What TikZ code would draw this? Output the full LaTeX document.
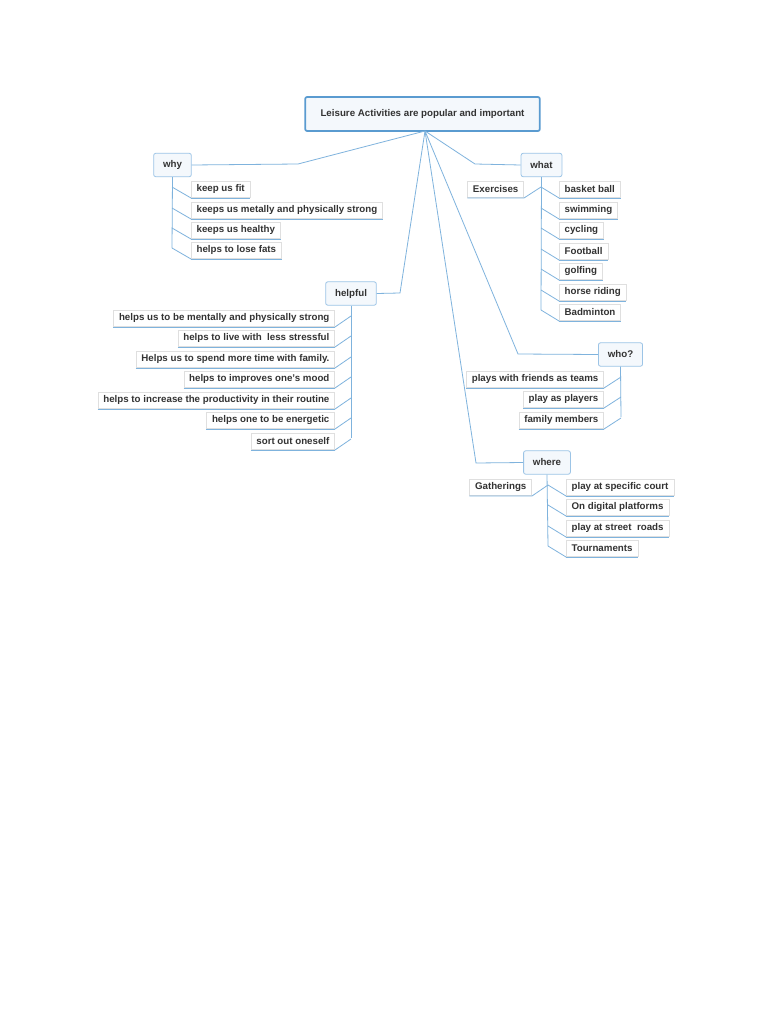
\documentclass[tikz,border=0pt]{standalone}
\usepackage{fontspec}
\setmainfont{Liberation Sans}
\begin{document}
\begin{tikzpicture}[x=0.75pt,y=-0.75pt,
  font=\fontsize{7.3}{8}\selectfont\bfseries,
  conn/.style={draw=lineblue,line width=0.6pt},
  root/.style={draw=rootblue,line width=1.3pt,fill=boxfill,rounded corners=1.5pt,minimum width=176pt,minimum height=25.5pt,text=txt},
  sub/.style={draw=subblue,line width=0.6pt,fill=boxfill,rounded corners=1.5pt,minimum height=17.5pt,inner xsep=7pt,text=txt},
  leaf/.style={draw=gray!25,line width=0.4pt,fill=white,minimum height=12.5pt,inner xsep=4pt,inner ysep=1pt,text=txt}]
\definecolor{lineblue}{HTML}{7FB3DD}
\definecolor{rootblue}{HTML}{5A9BD0}
\definecolor{subblue}{HTML}{9CC4E6}
\definecolor{boxfill}{HTML}{F4F8FC}
\definecolor{txt}{HTML}{333333}
\useasboundingbox (0,0) rectangle (768,1024);
\fill[white] (0,0) rectangle (768,1024);
\node[root] (root) at (422.5,114) {Leisure Activities are popular and important};
\coordinate (rb) at (425,131);
\node[sub] (why) at (172.5,165) {why};
\node[sub] (what) at (541.5,165) {what};
\node[sub] (helpful) at (351,293.5) {helpful};
\node[sub] (who) at (620.5,354.5) {who?};
\node[sub] (where) at (547,462.5) {where};
\coordinate (k1) at (298,164);
\coordinate (k2) at (475,164);
\coordinate (k3) at (400,293);
\coordinate (k4) at (518,354);
\coordinate (k5) at (476,463);
\draw[conn] (rb) -- (k1) -- (why.east);
\draw[conn] (rb) -- (k2) -- (what.west);
\draw[conn] (rb) -- (k3) -- (helpful.east);
\draw[conn] (rb) -- (k4) -- (who.west);
\draw[conn] (rb) -- (k5) -- (where.west);
% why leaves
\draw[conn] (why.south) -- (172,248);
\foreach \t/\b [count=\i] in {keep us fit/198,keeps us metally and physically strong/219,keeps us healthy/239,helps to lose fats/259}{
  \node[leaf,anchor=south west] (w\i) at (191,\b) {\t};
  \draw[conn] (w\i.south west) -- (w\i.south east);
  \draw[conn] (172,\b-11) -- (w\i.south west);
}
% what leaves
\draw[conn] (what.south) -- (541,310);
\foreach \t/\b [count=\i] in {basket ball/198,swimming/219,cycling/239,Football/260,golfing/280,horse riding/301,Badminton/321}{
  \node[leaf,anchor=south west] (a\i) at (559,\b) {\t};
  \draw[conn] (a\i.south west) -- (a\i.south east);
  \draw[conn] (541,\b-11) -- (a\i.south west);
}
\node[leaf,anchor=south east] (ex) at (524,198) {Exercises};
\draw[conn] (ex.south west) -- (ex.south east) -- (541,187);
% helpful leaves
\draw[conn] (helpful.south) -- (351,438);
\foreach \t/\b [count=\i] in {helps us to be mentally and physically strong/327,helps to live with\ \ less stressful/347,Helps us to spend more time with family./368,helps to improves one's mood/388,helps to increase the productivity in their routine/409,helps one to be energetic/429,sort out oneself/450}{
  \node[leaf,anchor=south east] (h\i) at (335,\b) {\t};
  \draw[conn] (h\i.south west) -- (h\i.south east);
  \draw[conn] (351,\b-11) -- (h\i.south east);
}
% who leaves
\draw[conn] (who.south) -- (621,417);
\foreach \t/\b [count=\i] in {plays with friends as teams/388,play as players/408,family members/429}{
  \node[leaf,anchor=south east] (o\i) at (604,\b) {\t};
  \draw[conn] (o\i.south west) -- (o\i.south east);
  \draw[conn] (621,\b-11) -- (o\i.south east);
}
% where leaves
\draw[conn] (where.south) -- (548,546);
\foreach \t/\b [count=\i] in {play at specific court/496,On digital platforms/516,play at street\ \ roads/537,Tournaments/557}{
  \node[leaf,anchor=south west] (r\i) at (566,\b) {\t};
  \draw[conn] (r\i.south west) -- (r\i.south east);
  \draw[conn] (548,\b-11) -- (r\i.south west);
}
\node[leaf,anchor=south east] (ga) at (532,496) {Gatherings};
\draw[conn] (ga.south west) -- (ga.south east) -- (548,485);
\end{tikzpicture}
\end{document}
